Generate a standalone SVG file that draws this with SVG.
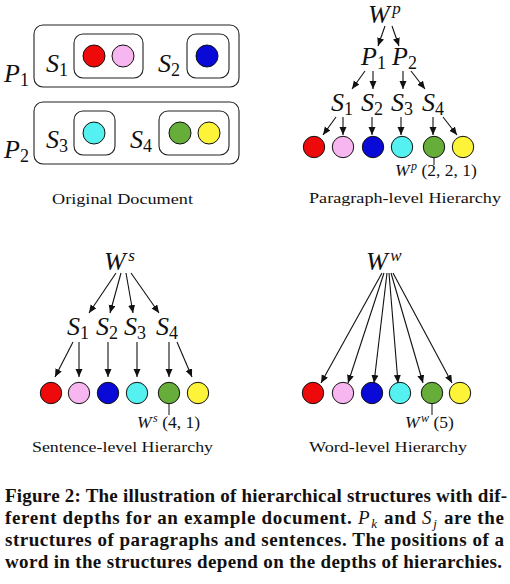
<svg xmlns="http://www.w3.org/2000/svg" width="510" height="584" viewBox="0 0 510 584">
<style>
.m{font-family:"Liberation Serif","DejaVu Serif",serif;font-style:italic;font-size:26px;fill:#111}
.sub{font-style:normal;font-size:18px}
.sup{font-size:17px}
.a{font-family:"Liberation Serif","DejaVu Serif",serif;font-style:italic;font-size:17.5px;fill:#111}
.an{font-style:normal}
.lbl{font-family:"Liberation Serif","DejaVu Serif",serif;font-size:14.5px;fill:#111}
.cap{font-family:"Liberation Serif","DejaVu Serif",serif;font-weight:bold;font-size:19px;fill:#111}
.ci{font-weight:normal;font-style:italic}
.cs{font-weight:normal;font-style:italic;font-size:13px}
.box{fill:none;stroke:#222;stroke-width:1.1}
.c{stroke:#111;stroke-width:1}
.red{fill:#ee0a0a}.pink{fill:#f7b6ef}.blue{fill:#0a0ad8}.cyan{fill:#55f0f0}.green{fill:#66ad3a}.yellow{fill:#fdf43a}
.e{stroke:#111;stroke-width:1.1;fill:none;marker-end:url(#ah)}
.t{stroke:#111;stroke-width:1;fill:none}
</style>
<defs>
<marker id="ah" markerUnits="userSpaceOnUse" markerWidth="9" markerHeight="8" refX="8" refY="3.5" orient="auto">
<path d="M0,0 L8,3.5 L0,7 z" fill="#111"/>
</marker>
</defs>

<!-- Original Document -->
<g id="original-document">
<rect class="box" x="34" y="25" width="205" height="62" rx="9"/>
<rect class="box" x="74" y="34" width="69" height="44" rx="9"/>
<rect class="box" x="187" y="34" width="42" height="44" rx="9"/>
<rect class="box" x="34" y="102" width="205" height="62" rx="9"/>
<rect class="box" x="74" y="111" width="41" height="44" rx="9"/>
<rect class="box" x="159" y="111" width="70" height="44" rx="9"/>
<circle class="c red" cx="94" cy="56" r="11"/>
<circle class="c pink" cx="123" cy="56" r="11"/>
<circle class="c blue" cx="207" cy="56" r="11"/>
<circle class="c cyan" cx="94" cy="133" r="11"/>
<circle class="c green" cx="180" cy="133" r="11"/>
<circle class="c yellow" cx="209" cy="133" r="11"/>
<text class="m" x="4" y="82">P<tspan class="sub" dy="4">1</tspan></text>
<text class="m" x="46" y="72">S<tspan class="sub" dy="4">1</tspan></text>
<text class="m" x="158" y="72">S<tspan class="sub" dy="4">2</tspan></text>
<text class="m" x="4" y="158">P<tspan class="sub" dy="4">2</tspan></text>
<text class="m" x="46" y="148">S<tspan class="sub" dy="4">3</tspan></text>
<text class="m" x="130" y="148">S<tspan class="sub" dy="4">4</tspan></text>
<text class="lbl" x="52" y="204" textLength="141" lengthAdjust="spacingAndGlyphs">Original Document</text>
</g>

<!-- Paragraph-level -->
<g id="paragraph-level">
<text class="m" x="368" y="23">W<tspan class="sup" dx="2.5" dy="-9">p</tspan></text>
<text class="m" x="361" y="65">P<tspan class="sub" dy="4">1</tspan></text>
<text class="m" x="392" y="65">P<tspan class="sub" dy="4">2</tspan></text>
<text class="m" x="331" y="111">S<tspan class="sub" dy="4">1</tspan></text>
<text class="m" x="361" y="111">S<tspan class="sub" dy="4">2</tspan></text>
<text class="m" x="391" y="111">S<tspan class="sub" dy="4">3</tspan></text>
<text class="m" x="422" y="111">S<tspan class="sub" dy="4">4</tspan></text>
<circle class="c red" cx="314" cy="147" r="10.7"/>
<circle class="c pink" cx="343" cy="147" r="10.7"/>
<circle class="c blue" cx="373" cy="147" r="10.7"/>
<circle class="c cyan" cx="402" cy="147" r="10.7"/>
<circle class="c green" cx="434" cy="147" r="10.7"/>
<circle class="c yellow" cx="463" cy="147" r="10.7"/>
<text class="a" x="395" y="176">W<tspan font-size="12" dx="1.5" dy="-6">p</tspan><tspan class="an" dy="6"> (2, 2, 1)</tspan></text>
<text class="lbl" x="309" y="203" textLength="192" lengthAdjust="spacingAndGlyphs">Paragraph-level Hierarchy</text>
</g>

<!-- Sentence-level -->
<g id="sentence-level">
<text class="m" x="104" y="270">W<tspan class="sup" dx="2.5" dy="-9">s</tspan></text>
<text class="m" x="67" y="335">S<tspan class="sub" dy="4">1</tspan></text>
<text class="m" x="96" y="335">S<tspan class="sub" dy="4">2</tspan></text>
<text class="m" x="124" y="335">S<tspan class="sub" dy="4">3</tspan></text>
<text class="m" x="156" y="335">S<tspan class="sub" dy="4">4</tspan></text>
<circle class="c red" cx="51" cy="393" r="10.7"/>
<circle class="c pink" cx="79" cy="393" r="10.7"/>
<circle class="c blue" cx="108" cy="393" r="10.7"/>
<circle class="c cyan" cx="137" cy="393" r="10.7"/>
<circle class="c green" cx="169" cy="393" r="10.7"/>
<circle class="c yellow" cx="198" cy="393" r="10.7"/>
<text class="a" x="137" y="428">W<tspan font-size="12" dx="1.5" dy="-6">s</tspan><tspan class="an" dy="6"> (4, 1)</tspan></text>
<text class="lbl" x="32" y="452" textLength="181" lengthAdjust="spacingAndGlyphs">Sentence-level Hierarchy</text>
</g>

<!-- Word-level -->
<g id="word-level">
<text class="m" x="366" y="270">W<tspan class="sup" dx="2.5" dy="-9">w</tspan></text>
<circle class="c red" cx="313" cy="393" r="10.7"/>
<circle class="c pink" cx="343" cy="393" r="10.7"/>
<circle class="c blue" cx="372" cy="393" r="10.7"/>
<circle class="c cyan" cx="400" cy="393" r="10.7"/>
<circle class="c green" cx="432" cy="393" r="10.7"/>
<circle class="c yellow" cx="460" cy="393" r="10.7"/>
<text class="a" x="405" y="428">W<tspan font-size="12" dx="1.5" dy="-6">w</tspan><tspan class="an" dy="6"> (5)</tspan></text>
<text class="lbl" x="309" y="452" textLength="158" lengthAdjust="spacingAndGlyphs">Word-level Hierarchy</text>
</g>

<!-- connectors -->
<g id="connectors">
<path class="e" d="M385,26 L378,46"/>
<path class="e" d="M392,26 L399,46"/>
<path class="e" d="M365,71 L352,89"/>
<path class="e" d="M373,71 L373,89"/>
<path class="e" d="M403,71 L403,89"/>
<path class="e" d="M411,71 L425,89"/>
<path class="e" d="M336,117 L323,135"/>
<path class="e" d="M343,117 L343,135"/>
<path class="e" d="M372,117 L372,135"/>
<path class="e" d="M401,117 L401,135"/>
<path class="e" d="M433,117 L433,135"/>
<path class="e" d="M443,117 L457,135"/>
<path class="t" d="M434,158 L434,165"/>

<path class="e" d="M116,273 L89,313"/>
<path class="e" d="M121,273 L110,313"/>
<path class="e" d="M126,273 L133,313"/>
<path class="e" d="M131,273 L159,313"/>
<path class="e" d="M73,342 L55,377"/>
<path class="e" d="M79,342 L79,377"/>
<path class="e" d="M108,342 L108,377"/>
<path class="e" d="M137,342 L137,377"/>
<path class="e" d="M169,342 L169,377"/>
<path class="e" d="M177,342 L192,377"/>
<path class="t" d="M169,404 L169,415"/>

<path class="e" d="M382,273 L321,383"/>
<path class="e" d="M384,273 L348,383"/>
<path class="e" d="M387,273 L374,383"/>
<path class="e" d="M389,273 L398,383"/>
<path class="e" d="M391,273 L423,383"/>
<path class="e" d="M393,273 L452,383"/>
<path class="t" d="M432,404 L432,415"/>
</g>

<!-- caption -->
<g id="caption">
<text class="cap" x="5" y="502" textLength="502" lengthAdjust="spacing">Figure 2: The illustration of hierarchical structures with dif-</text>
<text class="cap" x="5" y="524" textLength="499" lengthAdjust="spacing">ferent depths for an example document. <tspan class="ci">P</tspan><tspan class="cs" dx="1" dy="4">k</tspan><tspan dx="1" dy="-4"> and </tspan><tspan class="ci">S</tspan><tspan class="cs" dx="1" dy="4">j</tspan><tspan dx="1" dy="-4"> are the</tspan></text>
<text class="cap" x="5" y="546" textLength="499" lengthAdjust="spacing">structures of paragraphs and sentences. The positions of a</text>
<text class="cap" x="5" y="568" textLength="497" lengthAdjust="spacing">word in the structures depend on the depths of hierarchies.</text>
</g>
</svg>
